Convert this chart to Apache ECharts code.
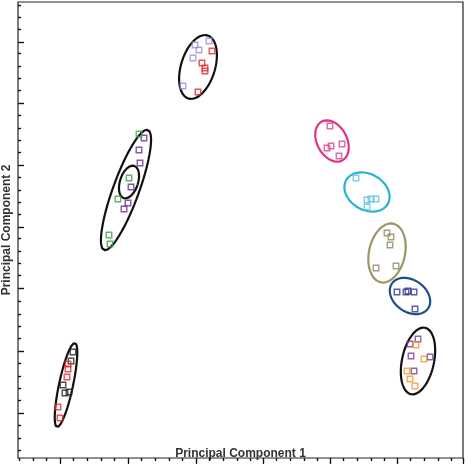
<!DOCTYPE html>
<html><head><meta charset="utf-8">
<script src="https://cdn.jsdelivr.net/npm/echarts@6/dist/echarts.min.js"></script>
<style>html,body{margin:0;padding:0;background:#fff}#c{width:474px;height:468px}</style>
</head><body><div id="c"></div>
<script>
// data coords: x in [0,445], y in [0,456]
const xMajorTicks = [42,110,178,245,312,379,445];
const yMajorTicks = [45,107,170,231,293,355,416];
const lavender = [[177,413],[181,408],[175,400],[191,417],[165,372]];
const red1 = [[194,407],[184,395],[187,390],[187,387],[180,366]];
const purple1 = [[126,320],[121,308],[122,295],[113,271],[110,255],[106,249]];
const green1 = [[121,324],[111,280],[100,259],[91,223],[92,214]];
const black1 = [[55,106],[53,97],[45,73],[47,65],[51,66]];
const red2 = [[50,94],[50,89],[49,81],[40,51],[42,40]];
const pink = [[312,332],[313,312],[309,310],[324,314],[321,302]];
const cyan = [[338,280],[349,258],[353,259],[358,259],[349,251]];
const olive = [[369,225],[373,221],[372,213],[358,190],[378,192]];
const navy = [[379,166],[388,166],[390,167],[396,166],[397,149]];
const purple2 = [[400,119],[392,114],[393,102],[412,101],[396,87]];
const orange = [[398,113],[406,99],[389,87],[392,79],[397,72]];
// ellipses: [cx, cy, semiMajor, semiMinor, tilt deg from vertical (+ = top leans right), colour]
const ellipses = [
  [180,391,33,17,17,'#111'],
  [108,268,64,13,20,'#111'],
  [111,276,17,9,18,'#111'],
  [48,73,43,7,12,'#111'],
  [314,317,22,15,-28,'#e0338a'],
  [349,266,24,18,-60,'#27b3d4'],
  [369,205,30,18,12,'#9c9565'],
  [392,162,22,16,-55,'#1d4f8a'],
  [400,97,34,16,12,'#111']
];
const groups = [
  [lavender,'#9b8fd6'],[red1,'#e3262b'],[purple1,'#6a2c91'],[green1,'#3aa24a'],
  [black1,'#222'],[red2,'#e8262a'],[pink,'#d9438f'],[cyan,'#5cc3dd'],[olive,'#8f8760'],
  [navy,'#2a3590'],[purple2,'#7b3a9a'],[orange,'#f39a26']
];
function minors(majors, lo, hi){
  const step=(majors[1]-majors[0])/5, out=[];
  for(let v=majors[0]-step; v>=lo; v-=step) out.push(v);
  for(let i=0;i<majors.length;i++) for(let k=1;k<5;k++){const v=majors[i]+k*step; if(v<=hi) out.push(v);}
  return out;
}
const XMIN=0,XMAX=445,YMIN=0,YMAX=456;
function ax(type,pos,vals,len,inside,extra){
  return Object.assign({type:'value',position:pos,min:type==='x'?XMIN:YMIN,max:type==='x'?XMAX:YMAX,
    axisLine:{show:false},splitLine:{show:false},axisLabel:{show:false},
    axisTick:{show:true,customValues:vals,length:len,inside:inside,lineStyle:{color:'#111',width:1.2}}},extra||{});
}
const xMin=minors(xMajorTicks,XMIN,XMAX), yMin=minors(yMajorTicks,YMIN,YMAX);
const series=[];
ellipses.forEach(e=>{
  const [cx,cy,a,b,t,col]=e, r=t*Math.PI/180, pts=[];
  for(let i=0;i<=72;i++){const th=i/72*2*Math.PI;
    const u=b*Math.cos(th), v=a*Math.sin(th);
    pts.push([cx+u*Math.cos(r)+v*Math.sin(r), cy-u*Math.sin(r)+v*Math.cos(r)]);}
  series.push({type:'line',data:pts,showSymbol:false,symbol:'none',silent:true,lineStyle:{color:col,width:2.2},z:2});
});
groups.forEach(g=>series.push({type:'scatter',data:g[0],symbol:'rect',symbolSize:5.5,
  itemStyle:{color:'rgba(255,255,255,0)',borderColor:g[1],borderWidth:1.4},z:3}));
const chart=echarts.init(document.getElementById('c'));
chart.setOption({animation:false,
  grid:{left:18,right:11,top:2,bottom:10,show:true,borderColor:'#222',borderWidth:1.2,outerBoundsMode:'none',containLabel:false},
  xAxis:[ax('x','bottom',xMajorTicks,5,false,{name:'Principal Component 1',nameLocation:'middle',nameGap:-10,
      nameTextStyle:{fontFamily:'Liberation Sans',fontSize:12,fontWeight:'bold',color:'#333'}}),
    ax('x','bottom',xMin,3,false),ax('x','top',xMajorTicks,6,true),ax('x','top',xMin,3,true)],
  yAxis:[ax('y','left',yMajorTicks,6,true,{name:'Principal Component 2',nameLocation:'middle',nameGap:5,
      nameTextStyle:{fontFamily:'Liberation Sans',fontSize:12,fontWeight:'bold',color:'#333'}}),
    ax('y','left',yMin,3,true),ax('y','right',yMajorTicks,6,false),ax('y','right',yMin,3,false)],
  series:series
});
</script></body></html>
